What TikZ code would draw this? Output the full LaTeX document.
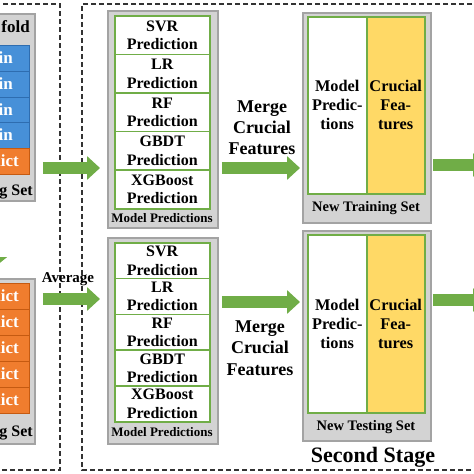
\documentclass[tikz,border=0pt]{standalone}
\usepackage{fontspec}
\setmainfont{Liberation Serif}
\usetikzlibrary{arrows.meta}
\definecolor{gfill}{HTML}{D3D3D3}
\definecolor{gborder}{HTML}{A3A3A3}
\definecolor{ogreen}{HTML}{70AD47}
\definecolor{oyellow}{HTML}{FFD966}
\definecolor{oblue}{HTML}{4790D8}
\definecolor{obluedk}{HTML}{2E6DB0}
\definecolor{oorange}{HTML}{F07D2E}
\definecolor{oorangedk}{HTML}{C55A11}
\definecolor{dashc}{HTML}{333333}
\begin{document}
\begin{tikzpicture}[x=1pt,y=-1pt,
  graybox/.style={draw=gborder, fill=gfill, line width=1.8pt, inner sep=0pt, anchor=north west},
  cellw/.style={draw=ogreen, fill=white, line width=1.5pt, inner sep=0pt, anchor=north west, align=center, font=\fontsize{16}{18.5}\selectfont\bfseries},
  celly/.style={cellw, fill=oyellow},
  cellb/.style={draw=obluedk, fill=oblue, line width=1pt, inner sep=0pt, anchor=north west},
  cello/.style={draw=oorangedk, fill=oorange, line width=1pt, inner sep=0pt, anchor=north west},
  ctxt/.style={inner sep=0pt, anchor=east, text=white, font=\fontsize{17}{20}\selectfont\bfseries},
  lbl/.style={inner sep=0pt, font=\fontsize{14.5}{17}\selectfont\bfseries},
  garrow/.style={draw=ogreen, line width=12pt, -{Triangle[width=23pt,length=13pt]}},
  frame/.style={draw=dashc, line width=1.5pt, dash pattern=on 5pt off 3pt},
  txt/.style={inner sep=0pt, align=center}
]
\useasboundingbox (0,0) rectangle (474,474);
\clip (0,0) rectangle (474,474);
\fill[white] (0,0) rectangle (474,474);

% dashed frames
\draw[frame] (-5,4) -- (60,4) -- (60,470) -- (-5,470);
\draw[frame] (480,4) -- (82,4) -- (82,470) -- (480,470);

% ---------- left column ----------
\node[graybox, minimum width=80pt, minimum height=187pt] (lt) at (-46,13) {};
\node[lbl, font=\fontsize{17}{20}\selectfont\bfseries, anchor=east] (ltT) at (30,27) {fold};
\foreach \i/\yy in {1/45,2/71,3/97,4/122}{
  \node[cellb, minimum width=73pt, minimum height=26pt] (ltc\i) at (-44,\yy) {};
  \node[ctxt] (ltt\i) at (13,\yy+13) {Train};
}
\node[cello, minimum width=73pt, minimum height=26pt] (ltc5) at (-44,148) {};
\node[ctxt] (ltt5) at (19,161) {Predict};
\node[lbl, font=\fontsize{16}{19}\selectfont\bfseries, anchor=east] (ltL) at (33,192) {Training Set};

\node[graybox, minimum width=80pt, minimum height=165pt] (lb) at (-46,278) {};
\foreach \i/\yy in {1/283,2/309,3/335,4/361,5/387}{
  \node[cello, minimum width=73pt, minimum height=26pt] (lbc\i) at (-44,\yy) {};
  \node[ctxt] (lbt\i) at (19,\yy+13) {Predict};
}
\node[lbl, font=\fontsize{16}{19}\selectfont\bfseries, anchor=east] (lbL) at (33,433) {Testing Set};

% ---------- middle column ----------
\node[graybox, minimum width=110pt, minimum height=217pt] (mt) at (107,10) {};
\foreach \i/\m [count=\k from 0] in {1/SVR,2/LR,3/RF,4/GBDT,5/XGBoost}
  \node[cellw, minimum width=95pt, minimum height=38.6pt] (mtc\i) at (114,{15+38.6*\k}) {\m\\Prediction};
\node[lbl, font=\fontsize{13}{15}\selectfont\bfseries] (mtL) at (162,218) {Model Predictions};

\node[graybox, minimum width=110pt, minimum height=206pt] (mb) at (107,237) {};
\foreach \i/\m [count=\k from 0] in {1/SVR,2/LR,3/RF,4/GBDT,5/XGBoost}
  \node[cellw, minimum width=95pt, minimum height=35.8pt] (mbc\i) at (114,{242+35.8*\k}) {\m\\Prediction};
\node[lbl, font=\fontsize{13}{15}\selectfont\bfseries] (mbL) at (162,432) {Model Predictions};

% ---------- right column ----------
\node[graybox, minimum width=128pt, minimum height=210pt] (rt) at (302,12) {};
\node[cellw, font=\fontsize{16.3}{19}\selectfont\bfseries, minimum width=59pt, minimum height=177pt] (rtw) at (307,16) {Model\\Predic-\\tions};
\node[celly, font=\fontsize{16.3}{19}\selectfont\bfseries, minimum width=58pt, minimum height=177pt] (rty) at (366,16) {Crucial\\Fea-\\tures};
\node[lbl] (rtL) at (366,208) {New Training Set};

\node[graybox, minimum width=128pt, minimum height=210pt] (rb) at (302,230) {};
\node[cellw, font=\fontsize{16.3}{19}\selectfont\bfseries, minimum width=59pt, minimum height=178pt] (rbw) at (307,234) {Model\\Predic-\\tions};
\node[celly, font=\fontsize{16.3}{19}\selectfont\bfseries, minimum width=58pt, minimum height=178pt] (rby) at (366,234) {Crucial\\Fea-\\tures};
\node[lbl] (rbL) at (366,427) {New Testing Set};

\node[txt, font=\fontsize{22}{26}\selectfont\bfseries] (stage) at (373,457) {Second Stage};

% ---------- arrows ----------
\draw[garrow, shorten <=7pt, shorten >=7pt] (lt.east |- 0,168) -- (mt.west |- 0,168);
\draw[garrow, shorten <=7pt, shorten >=7pt] (lb.east |- 0,299) -- (mb.west |- 0,299);
\node[txt, font=\fontsize{15}{18}\selectfont\bfseries] (avg) at (68,279) {Average};
\draw[garrow, shorten <=3pt, shorten >=2pt] (mt.east |- 0,168) -- (rt.west |- 0,168);
\draw[garrow, shorten <=3pt, shorten >=2pt] (mb.east |- 0,302) -- (rb.west |- 0,302);
\node[txt, font=\fontsize{18}{21}\selectfont\bfseries] (mg1) at (262,128) {Merge\\Crucial\\Features};
\node[txt, font=\fontsize{18}{21.5}\selectfont\bfseries] (mg2) at (260,348) {Merge\\Crucial\\Features};
\coordinate (outT) at (486,165);
\coordinate (outB) at (486,300);
\draw[garrow, shorten <=1pt] (rt.east |- outT) -- (outT);
\draw[garrow, shorten <=1pt] (rb.east |- outB) -- (outB);
\draw[draw=ogreen, line width=12pt, -{Triangle[width=32pt,length=13pt]}, shorten <=2pt, shorten >=8pt] ([xshift=-4pt]lt.south) -- ([xshift=-4pt]lb.north);
\end{tikzpicture}
\end{document}
